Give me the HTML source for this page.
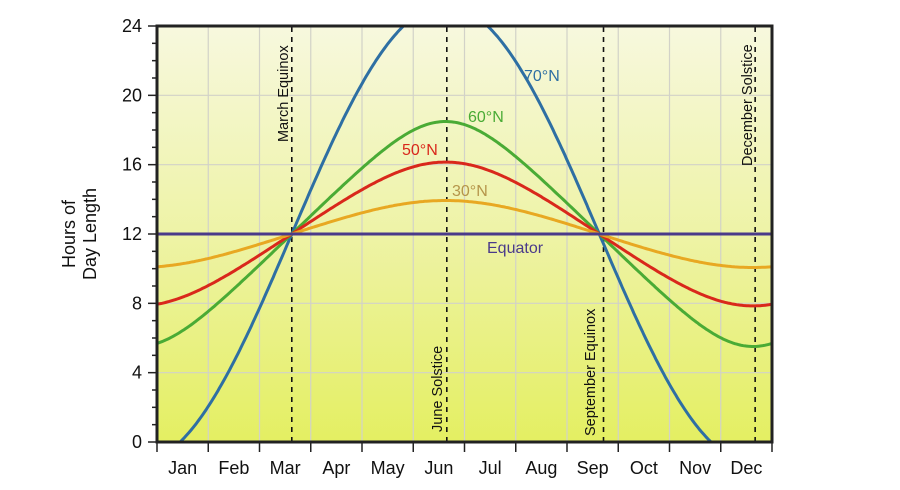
<!DOCTYPE html>
<html><head><meta charset="utf-8"><style>
html,body{margin:0;padding:0;background:#fff;}
svg{display:block;font-family:"Liberation Sans",Arial,sans-serif;}
</style></head><body>
<svg id="s" width="900" height="490" viewBox="0 0 900 490" xmlns="http://www.w3.org/2000/svg">
<defs>
<linearGradient id="bg" x1="0" y1="0" x2="0" y2="1">
<stop offset="0" stop-color="#f7f8de"/>
<stop offset="0.5" stop-color="#eef3a6"/>
<stop offset="1" stop-color="#e4ef62"/>
</linearGradient>
<clipPath id="cp"><rect x="157" y="26" width="615" height="416"/></clipPath>
</defs>
<rect x="157" y="26" width="615" height="416" fill="url(#bg)"/>
<g id="grid" stroke="#d2d2c8" stroke-width="1.2"></g>
<g id="eq" stroke="#111" stroke-width="1.6" stroke-dasharray="5,5"></g>
<g clip-path="url(#cp)" fill="none" stroke-width="3" id="curves"></g>
<g font-size="14.5" fill="#111">
<text transform="translate(288,142) rotate(-90)">March Equinox</text>
<text transform="translate(442,432) rotate(-90)">June Solstice</text>
<text transform="translate(595,436) rotate(-90)">September Equinox</text>
<text transform="translate(752,166) rotate(-90)">December Solstice</text>
</g>
<g font-size="16">
<text x="524" y="81" fill="#2e6fa3">70°N</text>
<text x="468" y="122" fill="#4aab35">60°N</text>
<text x="402" y="155" fill="#d9281b">50°N</text>
<text x="452" y="196" fill="#b5954a">30°N</text>
<text x="487" y="253" fill="#4a3a8a">Equator</text>
</g>
<path d="M157,26 H772 V442 H157 Z" fill="none" stroke="#222" stroke-width="3"/>
<g id="axes" stroke="#222" stroke-width="1.5"></g>
<g font-size="18" fill="#111" text-anchor="end" id="ylab"></g>
<g font-size="18" fill="#111" text-anchor="middle" id="xlab"></g>
<text transform="translate(78,234) rotate(-90)" text-anchor="middle" font-size="18" fill="#111"><tspan x="0" dy="-3">Hours of</tspan><tspan x="0" dy="21">Day Length</tspan></text>
<script>
(function(){
var NS="http://www.w3.org/2000/svg";
function el(p,t,a,txt){var e=document.createElementNS(NS,t);for(var k in a)e.setAttribute(k,a[k]);if(txt)e.textContent=txt;document.getElementById(p).appendChild(e);}
var X0=157,W=615,Y0=442,H=416;
function xd(d){return X0+d/365*W;}
function yh(h){return Y0-h*H/24;}
var mw=W/12, months=["Jan","Feb","Mar","Apr","May","Jun","Jul","Aug","Sep","Oct","Nov","Dec"];
for(var i=1;i<12;i++){var x=X0+i*mw;el("grid","line",{x1:x,y1:26,x2:x,y2:442});}
for(var h=4;h<24;h+=4){var y=yh(h);el("grid","line",{x1:157,y1:y,x2:772,y2:y});}
[80,172,265,355].forEach(function(d){var x=xd(d);el("eq","line",{x1:x,y1:27,x2:x,y2:441});});
for(var i=0;i<=12;i++){var x=X0+i*mw;el("axes","line",{x1:x,y1:442,x2:x,y2:452});}
for(var i=0;i<12;i++){el("xlab","text",{x:X0+(i+0.5)*mw,y:474},months[i]);}
for(var h=0;h<=24;h++){var y=yh(h);var L=(h%4==0)?9:5;el("axes","line",{x1:157-L,y1:y,x2:157,y2:y});}
for(var h=0;h<=24;h+=4){el("ylab","text",{x:142,y:yh(h)+6},String(h));}
var series=[[70,"#2e6fa3"],[60,"#4aab35"],[50,"#d9281b"],[30,"#e8a822"],[0,"#4a3a8a"]];
series.forEach(function(s){
var phi=s[0]*Math.PI/180,pts=[];
for(var d=-5;d<=370;d+=1){
var hh;
if(s[0]==70){hh=12+13.2*Math.sin(2*Math.PI*(d-80)/365);}
else{
var dec=23.44*Math.PI/180*Math.sin(2*Math.PI*(d-80)/365);
var v=-Math.tan(phi)*Math.tan(dec);v=Math.max(-1,Math.min(1,v));
hh=2/15*Math.acos(v)*180/Math.PI;}
pts.push(xd(d).toFixed(1)+","+yh(hh).toFixed(1));}
el("curves","path",{d:"M"+pts.join(" L"),stroke:s[1]});
});
})();
</script>
</svg>
</body></html>
